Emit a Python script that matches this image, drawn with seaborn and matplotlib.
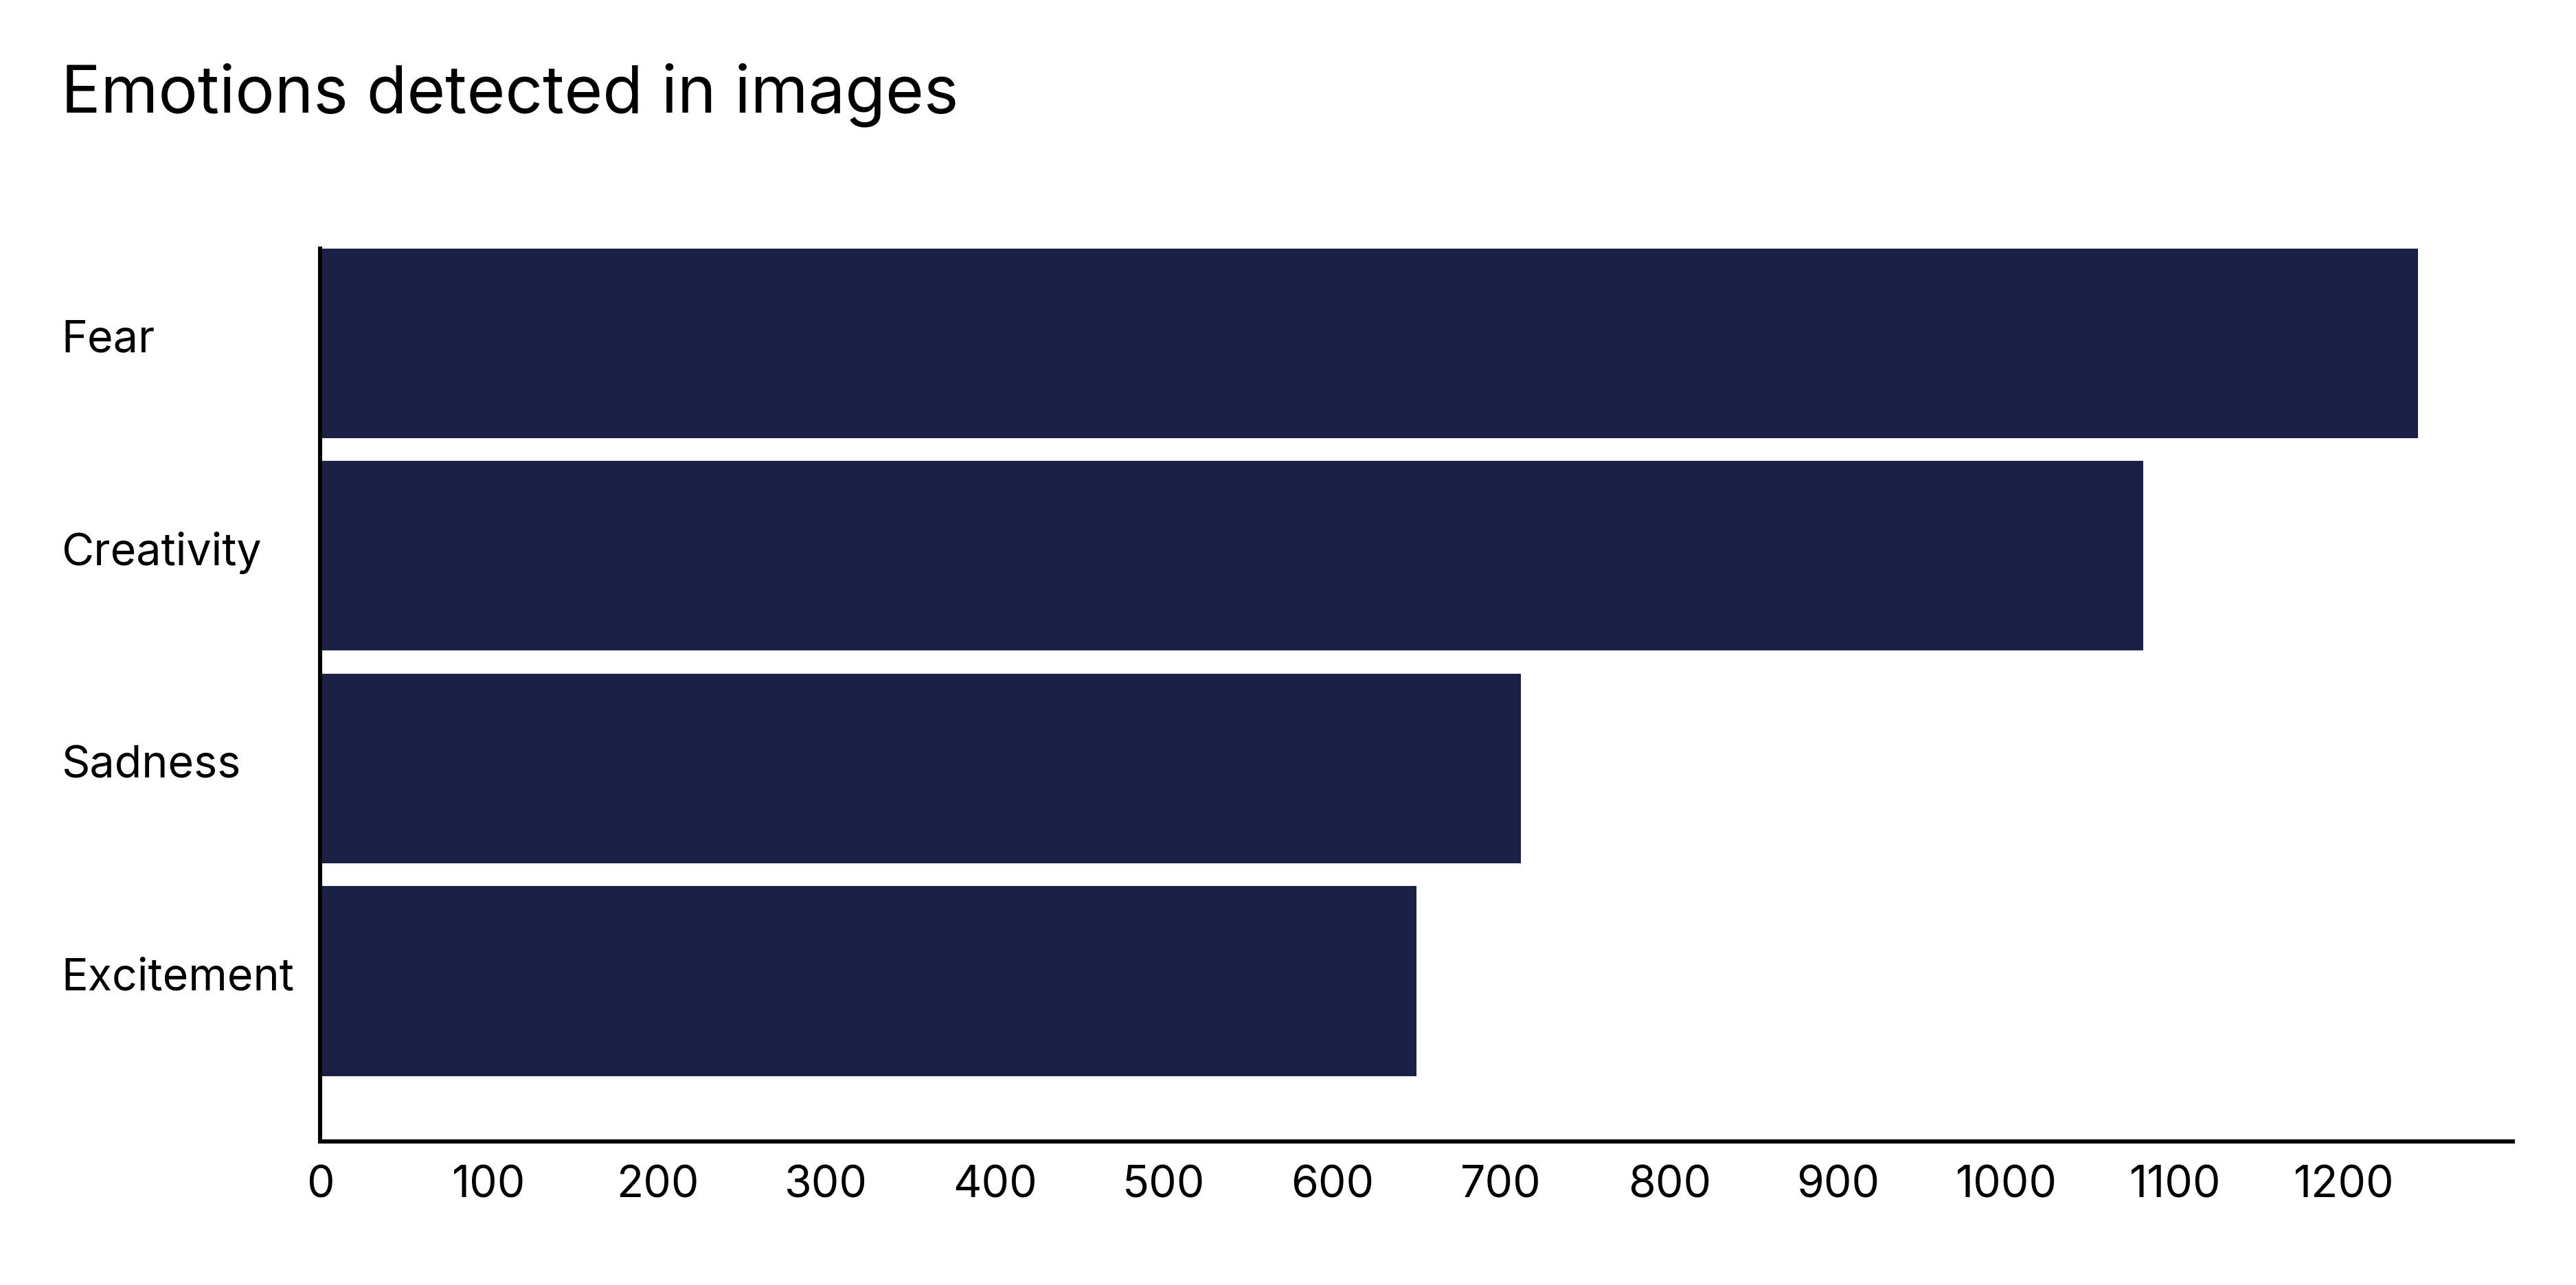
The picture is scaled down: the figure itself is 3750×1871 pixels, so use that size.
import pandas as pd
import matplotlib
matplotlib.use("Agg")
import matplotlib.pyplot as plt
import matplotlib.transforms as mtransforms
import seaborn as sns

# -----------------------------
# Data
# -----------------------------
emotions = ["Fear", "Creativity", "Sadness", "Excitement"]
counts = [1244, 1081, 712, 650]
x_ticks = [0, 100, 200, 300, 400, 500, 600, 700, 800, 900, 1000, 1100, 1200]

data = pd.DataFrame({"Emotion": emotions, "Count": counts})

sns.set_style("white")
plt.rcParams["font.family"] = ["Inter", "DejaVu Sans"]

bar_color = "#1a2046"
dpi = 250
fig = plt.figure(figsize=(3750 / dpi, 1871 / dpi), dpi=dpi)
ax = fig.add_axes([466 / 3750, 209 / 1871, (3658 - 466) / 3750, (1662 - 362) / 1871])

sns.barplot(data=data, x="Count", y="Emotion", orient="h", color=bar_color,
            saturation=1, width=0.893, linewidth=0, ax=ax)

ax.set_xlim(0, 1300)
ax.set_ylim(3.753, -0.4435)
ax.set_xticks(x_ticks)
ax.set_xticklabels([str(t) for t in x_ticks])
ax.set_xlabel("")
ax.set_ylabel("")

for side in ["top", "right"]:
    ax.spines[side].set_visible(False)
for side in ["left", "bottom"]:
    ax.spines[side].set_color("black")
    ax.spines[side].set_linewidth(1.75)

ax.tick_params(axis="x", length=0, pad=10, labelsize=18.5, colors="black")
ax.tick_params(axis="y", length=0, pad=108.5, labelsize=18.6, colors="black")
shift_up = mtransforms.ScaledTranslation(0, 3 / 72, fig.dpi_scale_trans)
for lbl in ax.get_yticklabels():
    lbl.set_horizontalalignment("left")
    lbl.set_transform(lbl.get_transform() + shift_up)

fig.text(89 / 3750, 1 - 163 / 1871, "Emotions detected in images",
         fontsize=27.6, color="black", ha="left", va="baseline")

fig.savefig("out.png", dpi=dpi, facecolor="white")
